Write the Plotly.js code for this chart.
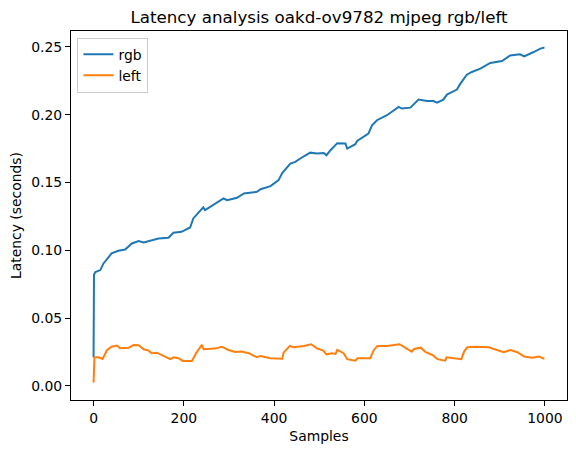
<!DOCTYPE html>
<html>
<head>
<meta charset="utf-8">
<script src="https://cdn.plot.ly/plotly-3.0.1.min.js"></script>
<style>
  html, body { margin: 0; padding: 0; background: white; }
  #chart { width: 576px; height: 453px; }
</style>
</head>
<body>
<div id="chart"></div>
<script>
// values
var rgbX = [0, 1, 4, 15, 22, 30, 40, 55, 70, 85,
  100, 111, 125, 144, 166, 177, 195, 214, 221, 232,
  243, 247, 273, 288, 296, 318, 333, 362, 370, 392,
  410, 418, 436, 447, 458, 480, 495, 510, 516, 525,
  540, 558, 562, 580, 584, 609, 617, 628, 650, 676,
  683, 702, 720, 739, 753, 761, 775, 783, 805, 812,
  827, 838, 857, 879, 905, 923, 945, 954, 975, 990, 999];
var rgbY = [0.021, 0.082, 0.084, 0.0854, 0.0903, 0.094, 0.0977, 0.0996, 0.1006, 0.105,
  0.1068, 0.1058, 0.107, 0.1087, 0.1092, 0.1129, 0.1136, 0.1168, 0.1235, 0.1272,
  0.1316, 0.1296, 0.135, 0.1382, 0.137, 0.1387, 0.1419, 0.1431, 0.145, 0.1473,
  0.1517, 0.157, 0.164, 0.1652, 0.1677, 0.172, 0.1713, 0.1718, 0.1701, 0.1738,
  0.179, 0.1787, 0.175, 0.1782, 0.1806, 0.186, 0.1922, 0.1959, 0.1996, 0.2057,
  0.2045, 0.2052, 0.2111, 0.2101, 0.2101, 0.2089, 0.2111, 0.2148, 0.2185, 0.2225,
  0.2295, 0.2315, 0.234, 0.2381, 0.2395, 0.2437, 0.2445, 0.243, 0.2462, 0.2487, 0.2495];

var leftX = [0, 2, 11, 20, 30, 40, 52, 59, 78, 89,
  100, 111, 122, 129, 140, 159, 170, 177, 188, 198,
  218, 227, 240, 244, 255, 269, 284, 292, 299, 314,
  328, 344, 362, 370, 385, 392, 418, 421, 435, 443,
  466, 482, 495, 509, 516, 528, 536, 540, 554, 562,
  580, 585, 613, 621, 629, 650, 678, 692, 705, 710,
  725, 736, 751, 762, 779, 782, 799, 815, 821, 828,
  846, 876, 887, 909, 924, 939, 954, 972, 987, 999];
var leftY = [0.0025, 0.0211, 0.0211, 0.0199, 0.0265, 0.0289, 0.0297, 0.0277, 0.0282, 0.0302,
  0.030, 0.027, 0.026, 0.0241, 0.0245, 0.0216, 0.0197, 0.0211, 0.0204, 0.0184,
  0.0184, 0.0241, 0.0302, 0.027, 0.027, 0.0275, 0.0289, 0.0277, 0.0265, 0.025,
  0.0253, 0.0241, 0.0211, 0.0221, 0.0211, 0.0204, 0.0201, 0.0245, 0.0295, 0.0285,
  0.0295, 0.0307, 0.0277, 0.026, 0.0233, 0.0241, 0.0236, 0.0265, 0.0241, 0.0197,
  0.0186, 0.0204, 0.0204, 0.0265, 0.0295, 0.0295, 0.0307, 0.0277, 0.0253, 0.0272,
  0.0282, 0.0248, 0.0228, 0.0197, 0.0186, 0.0211, 0.0204, 0.0197, 0.0253, 0.0285,
  0.0289, 0.0285, 0.0272, 0.0248, 0.0265, 0.0248, 0.0216, 0.0208, 0.0216, 0.0199];

var xTicks = [0, 200, 400, 600, 800, 1000];
var yTicks = [0.00, 0.05, 0.10, 0.15, 0.20, 0.25];

var font = 'DejaVu Sans, sans-serif';

var data = [
  {
    x: rgbX, y: rgbY, name: 'rgb', type: 'scatter', mode: 'lines',
    line: { color: '#1f77b4', width: 2 }
  },
  {
    x: leftX, y: leftY, name: 'left', type: 'scatter', mode: 'lines',
    line: { color: '#ff7f0e', width: 2 }
  }
];

var axisStyle = {
  showgrid: false,
  zeroline: false,
  showline: true,
  mirror: true,
  linecolor: 'black',
  linewidth: 1.1,
  ticks: 'outside',
  ticklen: 5,
  tickwidth: 1.1,
  tickcolor: 'black',
  tickfont: { family: font, size: 13.9, color: 'black' }
};

var layout = {
  width: 576,
  height: 453,
  margin: { l: 71, r: 9, t: 31, b: 53 },
  paper_bgcolor: 'white',
  plot_bgcolor: 'white',
  font: { family: font, color: 'black' },
  title: {
    text: 'Latency analysis oakd-ov9782 mjpeg rgb/left',
    font: { family: font, size: 16.7, color: 'black' },
    x: 0.5, xref: 'paper', xanchor: 'center',
    y: 0.962, yref: 'container', yanchor: 'middle'
  },
  xaxis: Object.assign({}, axisStyle, {
    range: [-49.95, 1048.95],
    tickvals: xTicks,
    ticktext: xTicks.map(String),
    title: { text: 'Samples', font: { family: font, size: 13.9, color: 'black' }, standoff: 6 }
  }),
  yaxis: Object.assign({}, axisStyle, {
    range: [-0.0104, 0.2617],
    tickvals: yTicks,
    ticktext: yTicks.map(function (v) { return v.toFixed(2); }),
    title: { text: 'Latency (seconds)', font: { family: font, size: 13.9, color: 'black' }, standoff: 6 }
  }),
  showlegend: true,
  legend: {
    x: 0.013, y: 0.982, xanchor: 'left', yanchor: 'top',
    bgcolor: 'rgba(255,255,255,0.8)',
    bordercolor: '#cccccc',
    borderwidth: 1,
    font: { family: font, size: 13.9, color: 'black' },
    tracegroupgap: 0
  }
};

Plotly.newPlot('chart', data, layout, { displayModeBar: false, staticPlot: true });
</script>
</body>
</html>
